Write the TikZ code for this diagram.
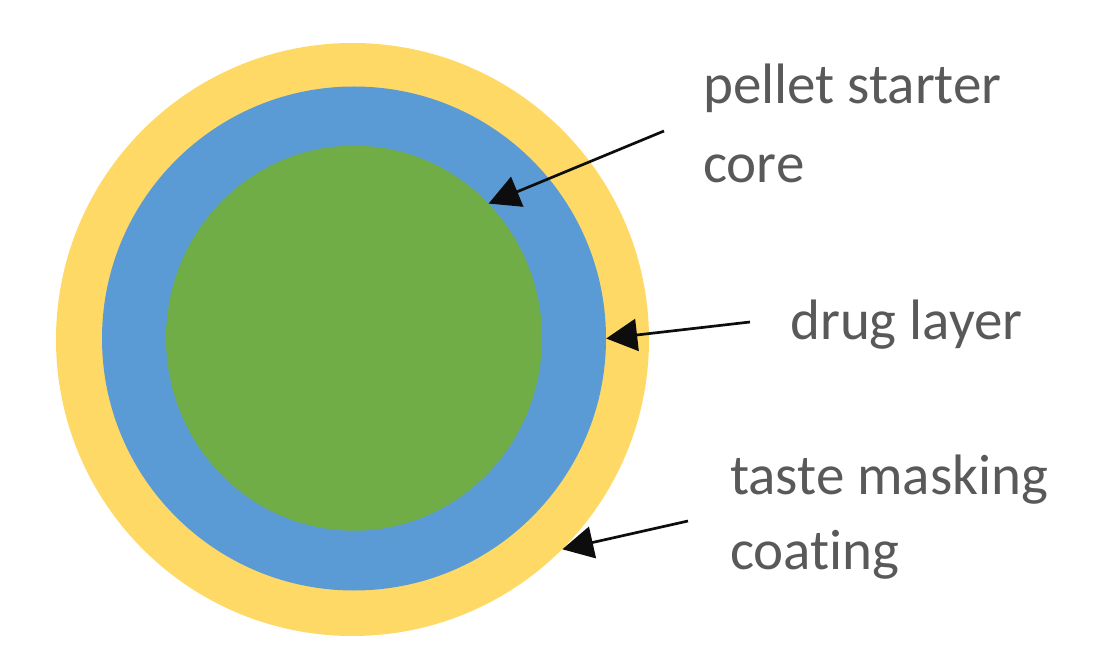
\documentclass[tikz,border=0pt]{standalone}
\usepackage{fontspec}
\setmainfont{Carlito}[Ligatures={NoCommon}]
\usetikzlibrary{arrows.meta,shapes.geometric}
\definecolor{coatY}{HTML}{FFD966}
\definecolor{drugB}{HTML}{5B9BD5}
\definecolor{coreG}{HTML}{70AD47}
\definecolor{labelGray}{HTML}{595959}
\definecolor{arrowK}{HTML}{0D0D0D}
\tikzset{
  layer/.style={ellipse, inner sep=0pt, draw=none},
  lbl/.style={anchor=base west, inner sep=0pt, align=left, text=labelGray},
  pointer/.style={draw=arrowK, line width=2.7pt, -{Triangle[length=31pt,width=32pt]}}
}
\begin{document}
\begin{tikzpicture}[x=1pt,y=-1pt]
\useasboundingbox (0,0) rectangle (1093,668);
\node[layer, fill=coatY, minimum width=593pt, minimum height=593pt] (outer) at (352.5,339.5) {};
\node[layer, fill=drugB, minimum width=504pt, minimum height=504pt] (drug) at (354,338.5) {};
\node[layer, fill=coreG, minimum width=376pt, minimum height=385pt] (core) at (354,338.2) {};
\node[lbl, font=\fontsize{57}{79}\selectfont] (lcore) at (703,183) {pellet starter\\core};
\node[lbl, font=\fontsize{57}{75}\selectfont] (ldrug) at (790,340) {drug layer};
\node[lbl, font=\fontsize{57}{75}\selectfont] (lcoat) at (730,569) {taste masking\\coating};
\coordinate (t1) at (664,131);
\coordinate (t2) at (750,322);
\coordinate (t3) at (688,521);
\draw[pointer] (t1) -- (core.45);
\draw[pointer] (t2) -- (drug.east);
\draw[pointer] (t3) -- (outer.-45);
\end{tikzpicture}
\end{document}
